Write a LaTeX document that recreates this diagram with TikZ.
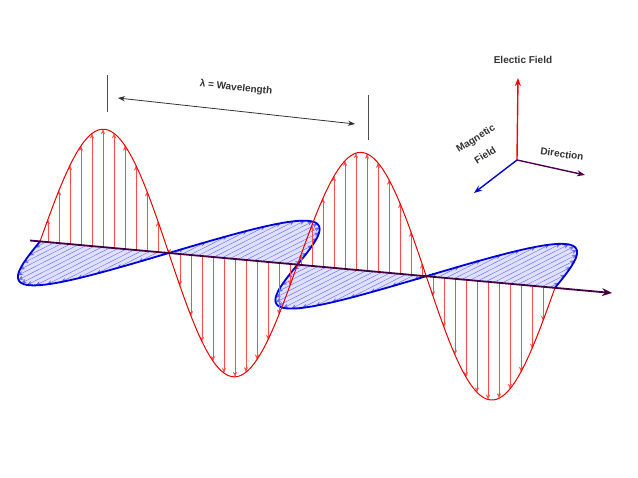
\documentclass[tikz,border=0pt]{standalone}
\usepackage{fontspec}
\setmainfont{Liberation Sans}
\usetikzlibrary{positioning, calc, arrows.meta}

\begin{document}
\begin{tikzpicture}[
         x=1pt, y=-1pt,
         efield/.style={red!90!black, line width=1pt},
         bfield/.style={blue!85!black, line width=1.8pt},
         ehatch/.style={red!70, line width=0.4pt, -{Stealth[length=5pt,width=4pt]}},
         bhatch/.style={blue!60, line width=0.4pt, -{Stealth[length=5pt,width=4pt]}},
         prop/.style={violet!50!black, line width=1.8pt, -{Stealth[length=10pt,width=8pt]}},
         label/.style={font=\bfseries, text=black!80}
      ]
         \useasboundingbox (0,0) rectangle (638,478);
         \def\ax#1{(241+0.09*(#1-35))}
         \def\sn#1{sin((#1-40)/257.5*360)}

         % Magnetic field lobes
         \fill[blue!12] plot[domain=40:555, samples=160, smooth]
            ({\x-75*\sn{\x}}, {\ax{\x}+38*\sn{\x}});
         \foreach \x in {46,54,...,552}
            \draw[bhatch] (\x, {\ax{\x}}) -- ({\x-75*\sn{\x}}, {\ax{\x}+38*\sn{\x}});
         \draw[bfield] plot[domain=40:555, samples=160, smooth]
            ({\x-75*\sn{\x}}, {\ax{\x}+38*\sn{\x}});

         % Electric field wave
         \foreach \x in {48,59,...,548}
            \draw[ehatch] (\x, {\ax{\x}}) -- (\x, {\ax{\x}-118*\sn{\x}});
         \draw[efield] plot[domain=40:555, samples=160, smooth]
            (\x, {\ax{\x}-118*\sn{\x}});

         % Direction of travel
         \coordinate (start) at (30, 240.5);
         \coordinate (tip) at (612, 293);
         \draw[prop] (start) -- (tip);

         % Wavelength marker
         \coordinate (m1a) at (107,75);  \coordinate (m1b) at (107,112);
         \coordinate (m2a) at (368,95);  \coordinate (m2b) at (368,140);
         \draw[black!70] (m1a) -- (m1b);
         \draw[black!70] (m2a) -- (m2b);
         \coordinate (wl1) at (118,98);
         \coordinate (wl2) at (355,124);
         \draw[black!80, line width=0.8pt, {Stealth[length=7pt]}-{Stealth[length=7pt]}] (wl1) -- (wl2);
         \node[label, rotate=-6] (wl) at (236,88) {λ = Wavelength};

         % Axes triad
         \coordinate (o) at (517,160);
         \coordinate (eup) at (518,78);
         \coordinate (dir) at (585,175);
         \coordinate (mag) at (474,193);
         \draw[red, line width=1.4pt, -{Stealth[length=8pt]}] (o) -- (eup);
         \draw[violet!60!black, line width=1.4pt, -{Stealth[length=8pt]}] (o) -- (dir);
         \draw[blue!85!black, line width=1.4pt, -{Stealth[length=8pt]}] (o) -- (mag);
         \node[label] (elab) at (523,60) {Electic Field};
         \node[label, rotate=-8] (dlab) at (562,154) {Direction};
         \node[label, rotate=32, inner sep=0pt] (mlab) at (476,139) {Magnetic};
         \node[label, rotate=32, inner sep=0pt] (flab) at (485,155) {Field};
      \end{tikzpicture}
\end{document}
